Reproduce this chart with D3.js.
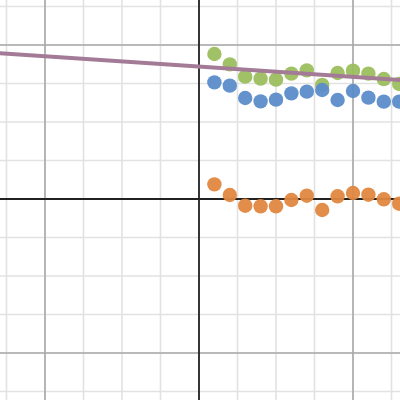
<!DOCTYPE html>
<html><head><meta charset="utf-8">
<script src="https://cdn.jsdelivr.net/npm/d3@7"></script>
<style>html,body{margin:0;padding:0;background:#fff;overflow:hidden}</style>
</head><body>
<svg id="c" width="400" height="400"></svg>
<script>
const xs      = [0.2,0.4,0.6,0.8,1.0,1.2,1.4,1.6,1.8,2.0,2.2,2.4,2.6];
const green   = [1.883,1.749,1.589,1.563,1.550,1.628,1.671,1.481,1.636,1.667,1.628,1.558,1.494];
const blue    = [1.515,1.472,1.312,1.268,1.290,1.372,1.394,1.416,1.286,1.403,1.316,1.264,1.264];
const orange  = [0.190,0.052,-0.087,-0.095,-0.095,-0.013,0.043,-0.143,0.035,0.078,0.056,-0.004,-0.061];
const lineIntercept = 1.72;
const lineSlope = -0.0667;

const W = 400, H = 400;
const x = d3.scaleLinear().domain([-199/77, 201/77]).range([0, W]);
const y = d3.scaleLinear().domain([-201/77, 199/77]).range([H, 0]);
const svg = d3.select("#c");

const minor = d3.range(-5, 6).map(d => d * 0.5);
const major = [-2, 2];

const g = svg.append("g");
g.selectAll(".vm").data(minor).join("line")
  .attr("x1", d => x(d)).attr("x2", d => x(d)).attr("y1", 0).attr("y2", H)
  .attr("stroke", "#e2e2e2").attr("stroke-width", 1.6);
g.selectAll(".hm").data(minor).join("line")
  .attr("y1", d => y(d)).attr("y2", d => y(d)).attr("x1", 0).attr("x2", W)
  .attr("stroke", "#e2e2e2").attr("stroke-width", 1.6);
g.selectAll(".vM").data(major).join("line")
  .attr("x1", d => x(d)).attr("x2", d => x(d)).attr("y1", 0).attr("y2", H)
  .attr("stroke", "#a9a9a9").attr("stroke-width", 1.6);
g.selectAll(".hM").data(major).join("line")
  .attr("y1", d => y(d)).attr("y2", d => y(d)).attr("x1", 0).attr("x2", W)
  .attr("stroke", "#a9a9a9").attr("stroke-width", 1.6);
// axes
g.append("line").attr("x1", x(0)).attr("x2", x(0)).attr("y1", 0).attr("y2", H)
  .attr("stroke", "#222").attr("stroke-width", 1.8);
g.append("line").attr("y1", y(0)).attr("y2", y(0)).attr("x1", 0).attr("x2", W)
  .attr("stroke", "#222").attr("stroke-width", 1.8);

function dots(vals, color) {
  svg.append("g").selectAll("circle").data(vals).join("circle")
    .attr("cx", (d, i) => x(xs[i])).attr("cy", d => y(d)).attr("r", 7.2)
    .attr("fill", color).attr("fill-opacity", 0.95);
}
dots(green, "#9cbe5e");
dots(blue, "#5b8cc9");
dots(orange, "#e0873f");

const [x0, x1] = x.domain();
svg.append("line")
  .attr("x1", x(x0)).attr("y1", y(lineIntercept + lineSlope * x0))
  .attr("x2", x(x1)).attr("y2", y(lineIntercept + lineSlope * x1))
  .attr("stroke", "#a37b97").attr("stroke-width", 4).attr("stroke-linecap", "round");
</script>
</body></html>
